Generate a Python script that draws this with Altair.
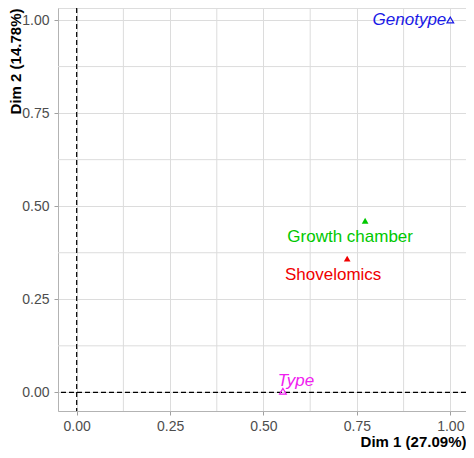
import altair as alt
import pandas as pd

# ---- data ----
groups = ["Shovelomics", "Growth chamber", "Genotype", "Type"]
dim1 = [0.724, 0.772, 1.0, 0.552]
dim2 = [0.359, 0.461, 1.0, 0.003]
active = [True, True, False, False]          # filled (active) vs open (supplementary)
group_colors = ["#F00000", "#00C800", "#1A1AE6", "#F020F0"]

major_ticks = [0.0, 0.25, 0.5, 0.75, 1.0]
minor_ticks = [0.125, 0.375, 0.625, 0.875]
x_title = "Dim 1 (27.09%)"
y_title = "Dim 2 (14.78%)"

df = pd.DataFrame({"group": groups, "d1": dim1, "d2": dim2, "active": active})
minor_df = pd.DataFrame({"v": minor_ticks})
zero_df = pd.DataFrame({"v": [0.0]})

FONT = "Liberation Sans"
xscale = alt.Scale(domain=[-0.05, 1.042], nice=False, zero=False)
yscale = alt.Scale(domain=[-0.05, 1.0323], nice=False, zero=False)
cscale = alt.Scale(domain=groups, range=group_colors)

xaxis = alt.Axis(values=major_ticks, format=".2f", title=x_title,
                 labelFont=FONT, labelFontSize=14, labelColor="#4D4D4D",
                 tickColor="#A0A0A0", tickSize=4, labelPadding=4,
                 domainColor="#B3B3B3", gridColor="#DCDCDC",
                 titleFont=FONT, titleFontSize=15, titleFontWeight="bold",
                 titleColor="black", titleAnchor="end", titleAlign="right",
                 titleBaseline="alphabetic", titleX=408, titleY=35)
yaxis = alt.Axis(values=major_ticks, format=".2f", title=y_title,
                 labelFont=FONT, labelFontSize=14, labelColor="#4D4D4D",
                 tickColor="#A0A0A0", tickSize=4, labelPadding=5,
                 domainColor="#B3B3B3", gridColor="#DCDCDC",
                 titleFont=FONT, titleFontSize=15, titleFontWeight="bold",
                 titleColor="black", titleAngle=270, titleAlign="right",
                 titleBaseline="top", titleX=-50, titleY=0)

# axes + major grid (invisible carrier points)
axes_layer = alt.Chart(df).mark_point(opacity=0).encode(
    x=alt.X("d1:Q", scale=xscale, axis=xaxis),
    y=alt.Y("d2:Q", scale=yscale, axis=yaxis),
)

minor_x = alt.Chart(minor_df).mark_rule(color="#DCDCDC", strokeWidth=1).encode(
    x=alt.X("v:Q", scale=xscale))
minor_y = alt.Chart(minor_df).mark_rule(color="#DCDCDC", strokeWidth=1).encode(
    y=alt.Y("v:Q", scale=yscale))

zero_x = alt.Chart(zero_df).mark_rule(color="black", strokeDash=[5, 3], strokeWidth=1.2).encode(
    x=alt.X("v:Q", scale=xscale))
zero_y = alt.Chart(zero_df).mark_rule(color="black", strokeDash=[5, 3], strokeWidth=1.2).encode(
    y=alt.Y("v:Q", scale=yscale))

pts_base = alt.Chart(df).encode(
    x=alt.X("d1:Q", scale=xscale),
    y=alt.Y("d2:Q", scale=yscale),
    color=alt.Color("group:N", scale=cscale, legend=None),
)
filled_pts = pts_base.transform_filter("datum.active").mark_point(
    shape="triangle-up", size=45, filled=True, opacity=1)
open_pts = pts_base.transform_filter("!datum.active").mark_point(
    shape="triangle-up", size=45, filled=False, strokeWidth=1.2, opacity=1)

def label(name, dx, dy, align, italic):
    return pts_base.transform_filter(alt.datum.group == name).mark_text(
        font=FONT, fontSize=17, dx=dx, dy=dy, align=align, baseline="alphabetic",
        fontStyle="italic" if italic else "normal",
    ).encode(text="group:N")

labels = [
    label("Genotype", -4, 5, "right", True),
    label("Growth chamber", -15, 21, "center", False),
    label("Shovelomics", -14, 21, "center", False),
    label("Type", 13, -5, "center", True),
]

chart = alt.layer(
    minor_x, minor_y, axes_layer, zero_x, zero_y, filled_pts, open_pts, *labels
).properties(
    width=408, height=403,
    autosize=alt.AutoSizeParams(type="none"),
    padding={"left": 50, "top": 0, "right": 0, "bottom": 39},
).configure_view(stroke=None).configure(background="white")

chart.save("out.html", embed_options={"renderer": "svg", "actions": False})
